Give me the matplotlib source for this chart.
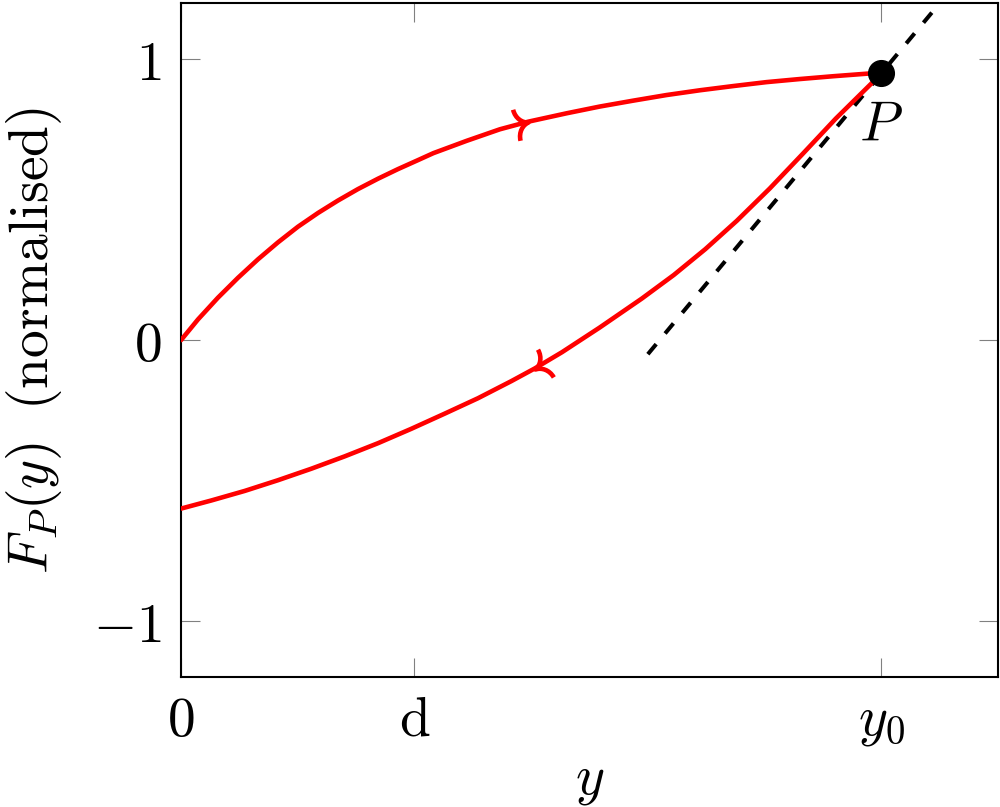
import numpy as np
import matplotlib
matplotlib.use("Agg")
import matplotlib.pyplot as plt
from matplotlib.path import Path
from matplotlib.markers import MarkerStyle
from matplotlib.transforms import Affine2D

plt.rcParams['mathtext.fontset'] = 'cm'
plt.rcParams['lines.scale_dashes'] = False

# ---- data ----
upper_x = [0.0, 0.073, 0.158, 0.244, 0.330, 0.415, 0.501, 0.587, 0.672, 0.758,
           0.844, 0.929, 1.012, 1.081, 1.224, 1.366, 1.487, 1.652, 1.794, 1.937,
           2.080, 2.223, 2.366, 2.508, 2.651, 2.794, 2.937, 3.0]
upper_y = [0.0, 0.074, 0.151, 0.222, 0.288, 0.348, 0.404, 0.453, 0.497, 0.538,
           0.575, 0.609, 0.640, 0.666, 0.710, 0.751, 0.778, 0.808, 0.832, 0.853,
           0.873, 0.890, 0.905, 0.919, 0.930, 0.940, 0.949, 0.952]
upper_arrow_idx = 16

lower_x = [0.0, 0.130, 0.273, 0.415, 0.558, 0.701, 0.844, 0.986, 1.129, 1.272,
           1.415, 1.515, 1.632, 1.792, 1.974, 2.111, 2.246, 2.381, 2.522, 2.664,
           2.805, 2.955, 3.0]
lower_y = [-0.600, -0.571, -0.537, -0.499, -0.458, -0.414, -0.367, -0.316, -0.262,
           -0.207, -0.146, -0.101, -0.043, 0.044, 0.148, 0.232, 0.324, 0.425,
           0.540, 0.664, 0.789, 0.912, 0.950]
lower_arrow_idx = 11

tangent_x = [2.0, 3.3]
tangent_y = [-0.05, 1.25]

point_x = [3.0]
point_y = [0.951]
point_label = "$P$"

xticks = [0, 1, 3]
xticklabels = ["$0$", r"$\mathrm{d}$", "$y_0$"]
yticks = [-1, 0, 1]
yticklabels = ["$-1$", "$0$", "$1$"]

# ---- figure ----
fig = plt.figure(figsize=(10, 8.07), dpi=100)
ax = fig.add_axes([0.181, 0.161, 0.817, 0.835])
ax.set_xlim(0, 3.5)
ax.set_ylim(-1.2, 1.2)

red = '#ff0000'
lw_red = 3.3
ax.plot(tangent_x, tangent_y, color='black', lw=2.9, linestyle=(0, (9.4, 10.0)),
        dash_capstyle='butt', zorder=2)
ax.plot(upper_x, upper_y, color=red, lw=lw_red, solid_capstyle='round',
        solid_joinstyle='round', zorder=3)
ax.plot(lower_x, lower_y, color=red, lw=lw_red, solid_capstyle='round',
        solid_joinstyle='round', zorder=3)
ax.plot(point_x, point_y, 'o', color='black', markersize=18.5, zorder=5)
ax.annotate(point_label, (point_x[0], point_y[0]), xytext=(0, -38),
            textcoords='offset points', ha='center', va='center', fontsize=40)

# arrow heads (TikZ "to" style)
verts = [(-12, 16), (-12, 7), (-6, 1), (0, 0), (-6, -1), (-12, -7), (-12, -16)]
codes = [Path.MOVETO, Path.CURVE4, Path.CURVE4, Path.CURVE4,
         Path.CURVE4, Path.CURVE4, Path.CURVE4]
head = Path(verts, codes)

fig.canvas.draw()
def add_head(xs, ys, i, forward=True):
    p0 = ax.transData.transform((xs[i - 1], ys[i - 1]))
    p1 = ax.transData.transform((xs[i + 1], ys[i + 1]))
    ang = np.degrees(np.arctan2(p1[1] - p0[1], p1[0] - p0[0]))
    if not forward:
        ang += 180
    ms = MarkerStyle(head, fillstyle='none', transform=Affine2D().rotate_deg(ang))
    ax.plot([xs[i]], [ys[i]], marker=ms, markersize=23, markeredgewidth=lw_red,
            markeredgecolor=red, markerfacecolor='none', linestyle='none', zorder=4)

add_head(upper_x, upper_y, upper_arrow_idx, forward=True)
add_head(lower_x, lower_y, lower_arrow_idx, forward=False)

ax.set_xticks(xticks)
ax.set_xticklabels(xticklabels)
ax.set_yticks(yticks)
ax.set_yticklabels(yticklabels)
ax.tick_params(direction='in', length=14, width=0.8, color='#808080',
               labelsize=40, top=True, right=True, pad=12)
ax.tick_params(axis='y', pad=14)
for s in ax.spines.values():
    s.set_linewidth(1.5)
    s.set_color('black')

ax.set_xlabel("$y$", fontsize=40, labelpad=4)
ax.set_ylabel(r"$F_P(y)\ \;\mathrm{(normalised)}$", fontsize=40)
ax.yaxis.set_label_coords(-0.143, 0.5)

fig.savefig("out.png", dpi=100)
